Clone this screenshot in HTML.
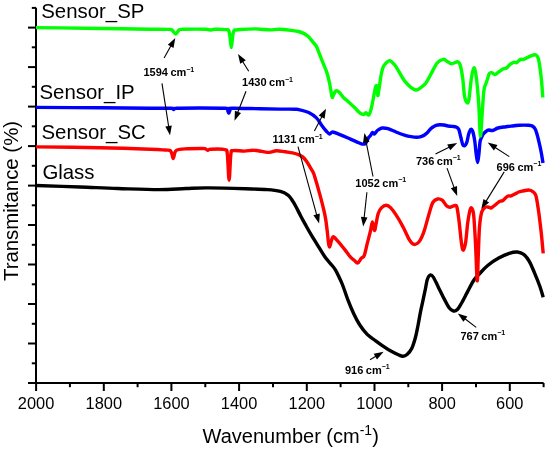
<!DOCTYPE html>
<html><head><meta charset="utf-8"><style>
html,body{margin:0;padding:0;background:#fff;}
svg{display:block;}
text{font-family:"Liberation Sans",Arial,sans-serif;fill:#000;}
.lg{font-size:20.4px;}
.al{font-size:20px;}
.yl{font-size:20.4px;}
.tk{font-size:16.4px;text-anchor:middle;}
.an{font-size:11px;font-weight:bold;}
</style></head><body>
<svg width="550" height="450" viewBox="0 0 550 450">
<rect width="550" height="450" fill="#fff"/>
<line x1="36.0" y1="7.8" x2="36.0" y2="384.0" stroke="#000" stroke-width="2"/>
<line x1="35.0" y1="383.0" x2="543.6" y2="383.0" stroke="#000" stroke-width="2"/>
<line x1="28" y1="27.6" x2="36.0" y2="27.6" stroke="#000" stroke-width="2"/>
<line x1="28" y1="67.1" x2="36.0" y2="67.1" stroke="#000" stroke-width="2"/>
<line x1="28" y1="106.6" x2="36.0" y2="106.6" stroke="#000" stroke-width="2"/>
<line x1="28" y1="146.1" x2="36.0" y2="146.1" stroke="#000" stroke-width="2"/>
<line x1="28" y1="185.6" x2="36.0" y2="185.6" stroke="#000" stroke-width="2"/>
<line x1="28" y1="225.0" x2="36.0" y2="225.0" stroke="#000" stroke-width="2"/>
<line x1="28" y1="264.5" x2="36.0" y2="264.5" stroke="#000" stroke-width="2"/>
<line x1="28" y1="304.0" x2="36.0" y2="304.0" stroke="#000" stroke-width="2"/>
<line x1="28" y1="343.5" x2="36.0" y2="343.5" stroke="#000" stroke-width="2"/>
<line x1="28" y1="383.0" x2="36.0" y2="383.0" stroke="#000" stroke-width="2"/>
<line x1="31.8" y1="7.9" x2="36.0" y2="7.9" stroke="#000" stroke-width="2"/>
<line x1="31.8" y1="47.3" x2="36.0" y2="47.3" stroke="#000" stroke-width="2"/>
<line x1="31.8" y1="86.8" x2="36.0" y2="86.8" stroke="#000" stroke-width="2"/>
<line x1="31.8" y1="126.3" x2="36.0" y2="126.3" stroke="#000" stroke-width="2"/>
<line x1="31.8" y1="165.8" x2="36.0" y2="165.8" stroke="#000" stroke-width="2"/>
<line x1="31.8" y1="205.3" x2="36.0" y2="205.3" stroke="#000" stroke-width="2"/>
<line x1="31.8" y1="244.8" x2="36.0" y2="244.8" stroke="#000" stroke-width="2"/>
<line x1="31.8" y1="284.3" x2="36.0" y2="284.3" stroke="#000" stroke-width="2"/>
<line x1="31.8" y1="323.8" x2="36.0" y2="323.8" stroke="#000" stroke-width="2"/>
<line x1="31.8" y1="363.3" x2="36.0" y2="363.3" stroke="#000" stroke-width="2"/>
<line x1="36.1" y1="383.0" x2="36.1" y2="391" stroke="#000" stroke-width="2"/>
<text x="36.1" y="408.7" class="tk">2000</text>
<line x1="69.9" y1="383.0" x2="69.9" y2="387.2" stroke="#000" stroke-width="2"/>
<line x1="103.8" y1="383.0" x2="103.8" y2="391" stroke="#000" stroke-width="2"/>
<text x="103.8" y="408.7" class="tk">1800</text>
<line x1="137.6" y1="383.0" x2="137.6" y2="387.2" stroke="#000" stroke-width="2"/>
<line x1="171.4" y1="383.0" x2="171.4" y2="391" stroke="#000" stroke-width="2"/>
<text x="171.4" y="408.7" class="tk">1600</text>
<line x1="205.3" y1="383.0" x2="205.3" y2="387.2" stroke="#000" stroke-width="2"/>
<line x1="239.1" y1="383.0" x2="239.1" y2="391" stroke="#000" stroke-width="2"/>
<text x="239.1" y="408.7" class="tk">1400</text>
<line x1="273.0" y1="383.0" x2="273.0" y2="387.2" stroke="#000" stroke-width="2"/>
<line x1="306.8" y1="383.0" x2="306.8" y2="391" stroke="#000" stroke-width="2"/>
<text x="306.8" y="408.7" class="tk">1200</text>
<line x1="340.6" y1="383.0" x2="340.6" y2="387.2" stroke="#000" stroke-width="2"/>
<line x1="374.5" y1="383.0" x2="374.5" y2="391" stroke="#000" stroke-width="2"/>
<text x="374.5" y="408.7" class="tk">1000</text>
<line x1="408.3" y1="383.0" x2="408.3" y2="387.2" stroke="#000" stroke-width="2"/>
<line x1="442.1" y1="383.0" x2="442.1" y2="391" stroke="#000" stroke-width="2"/>
<text x="442.1" y="408.7" class="tk">800</text>
<line x1="476.0" y1="383.0" x2="476.0" y2="387.2" stroke="#000" stroke-width="2"/>
<line x1="509.8" y1="383.0" x2="509.8" y2="391" stroke="#000" stroke-width="2"/>
<text x="509.8" y="408.7" class="tk">600</text>
<line x1="543.6" y1="383.0" x2="543.6" y2="387.2" stroke="#000" stroke-width="2"/>
<path d="M36.0,185.5 C43.3,185.8 66.4,186.5 80.0,187.0 C93.6,187.5 104.7,188.1 117.8,188.5 C130.9,188.9 147.3,189.6 158.7,189.6 C170.1,189.6 177.7,188.8 186.0,188.5 C194.3,188.2 198.5,187.8 208.4,187.9 C218.3,188.0 235.7,188.5 245.5,188.8 C255.3,189.1 261.5,189.2 267.3,189.6 C273.1,190.0 276.9,190.5 280.4,191.4 C283.8,192.3 286.1,193.7 288.0,195.1 C289.9,196.5 290.7,198.1 292.0,200.0 C293.3,201.9 294.6,204.0 296.0,206.7 C297.4,209.4 299.0,212.7 300.7,216.0 C302.4,219.3 304.5,223.0 306.3,226.3 C308.1,229.6 309.7,232.4 311.7,235.7 C313.7,239.0 316.1,242.8 318.3,246.3 C320.5,249.9 322.8,253.9 325.0,257.0 C327.2,260.1 329.9,262.8 331.7,265.0 C333.5,267.2 334.5,268.3 335.7,270.3 C336.9,272.3 337.9,274.6 339.0,277.0 C340.1,279.4 341.1,281.1 342.6,285.0 C344.1,288.9 346.4,296.0 348.2,300.7 C350.0,305.4 351.6,309.2 353.5,313.3 C355.4,317.4 357.5,321.5 359.8,325.0 C362.1,328.5 364.6,331.8 367.2,334.4 C369.8,337.0 372.9,338.7 375.7,340.8 C378.5,342.9 381.6,345.1 384.2,346.8 C386.8,348.6 388.9,350.0 391.3,351.3 C393.7,352.6 396.5,354.0 398.4,354.8 C400.3,355.6 401.4,356.4 402.9,356.3 C404.4,356.2 405.8,355.6 407.3,354.3 C408.8,353.0 410.4,351.3 411.7,348.6 C413.0,345.9 414.2,341.9 415.3,338.0 C416.4,334.1 417.1,329.9 418.0,325.5 C418.9,321.1 419.7,315.7 420.6,311.3 C421.5,306.9 422.5,302.6 423.3,298.9 C424.1,295.2 424.7,292.2 425.4,289.0 C426.1,285.8 426.5,281.8 427.3,279.5 C428.1,277.2 429.2,275.4 430.2,275.0 C431.2,274.6 432.0,275.2 433.3,277.1 C434.6,279.0 436.2,282.8 438.0,286.4 C439.8,290.0 442.4,295.4 444.2,298.9 C446.0,302.4 447.3,305.4 448.9,307.4 C450.4,309.4 452.1,310.6 453.5,311.0 C454.9,311.4 456.1,310.8 457.4,309.5 C458.7,308.2 459.6,306.4 461.3,303.5 C463.0,300.6 465.4,295.8 467.5,291.9 C469.6,288.0 471.7,283.3 473.8,280.2 C475.9,277.1 477.6,275.7 480.0,273.2 C482.4,270.7 484.9,267.8 488.0,265.3 C491.1,262.8 495.1,260.1 498.7,258.1 C502.2,256.1 506.2,254.3 509.3,253.3 C512.4,252.3 514.8,251.8 517.3,252.0 C519.8,252.2 522.0,253.1 524.0,254.7 C526.0,256.2 527.5,258.2 529.3,261.3 C531.1,264.4 532.9,269.1 534.7,273.3 C536.5,277.5 538.6,282.7 540.0,286.7 C541.4,290.7 542.7,295.5 543.2,297.3" fill="none" stroke="#000" stroke-width="3.4" stroke-linejoin="round" stroke-linecap="butt"/>
<path d="M36.0,146.9 C46.7,147.0 81.0,147.3 100.0,147.7 C119.0,148.1 139.2,148.8 150.0,149.2 C160.8,149.6 161.7,149.8 165.0,150.0 C168.3,150.2 168.7,149.9 169.8,150.4 C170.9,150.9 171.0,151.6 171.6,153.0 C172.2,154.4 172.7,158.6 173.2,158.6 C173.7,158.6 174.2,154.4 174.8,153.0 C175.4,151.6 174.9,150.9 176.6,150.2 C178.3,149.5 181.1,149.2 185.0,148.9 C188.9,148.6 196.7,148.5 200.0,148.5 C203.3,148.5 203.7,148.4 205.0,148.7 C206.3,149.0 207.0,150.1 208.0,150.2 C209.0,150.3 208.2,149.3 211.0,149.2 C213.8,149.1 222.3,148.8 225.0,149.6 C227.7,150.4 226.6,148.9 227.3,154.0 C228.0,159.1 228.5,180.2 229.1,180.2 C229.7,180.2 230.2,158.9 230.9,154.0 C231.6,149.1 230.9,151.1 233.2,150.6 C235.5,150.1 241.2,151.2 244.5,151.1 C247.8,151.0 250.4,150.1 253.3,150.2 C256.2,150.2 259.3,151.0 262.0,151.4 C264.7,151.8 266.9,152.5 269.3,152.4 C271.7,152.3 273.8,150.9 276.5,150.8 C279.2,150.7 282.6,151.5 285.3,151.8 C288.0,152.2 290.3,152.4 292.5,152.9 C294.7,153.4 296.7,153.9 298.4,154.6 C300.1,155.3 301.3,155.7 302.7,156.9 C304.1,158.1 305.6,160.0 307.0,162.0 C308.4,164.0 310.0,166.9 311.1,168.9 C312.2,170.9 313.0,171.8 313.8,173.8 C314.6,175.8 315.1,178.2 316.0,181.1 C316.9,184.0 318.0,187.8 318.9,191.1 C319.8,194.4 320.8,197.9 321.6,201.1 C322.4,204.2 323.1,207.0 323.8,210.0 C324.5,213.0 325.1,215.6 325.6,218.9 C326.2,222.2 326.6,226.2 327.1,230.0 C327.6,233.8 328.0,239.2 328.4,242.0 C328.8,244.8 329.1,247.1 329.6,247.0 C330.1,246.9 330.7,243.0 331.2,241.5 C331.7,240.0 331.9,238.8 332.4,238.0 C332.8,237.2 333.0,236.5 333.9,237.0 C334.8,237.5 336.2,239.3 337.8,241.1 C339.4,242.9 341.8,245.9 343.3,247.8 C344.8,249.7 345.7,250.8 347.0,252.5 C348.3,254.2 349.8,256.4 351.0,257.7 C352.2,259.0 353.4,259.6 354.5,260.5 C355.6,261.4 356.6,263.4 357.7,263.0 C358.8,262.6 360.1,259.7 361.2,258.4 C362.3,257.1 363.3,257.9 364.3,255.3 C365.3,252.7 366.3,247.1 367.4,242.9 C368.4,238.8 369.8,233.9 370.6,230.4 C371.4,226.9 371.8,221.9 372.4,221.9 C373.0,221.9 373.8,230.0 374.4,230.4 C375.0,230.8 375.4,227.0 376.0,224.2 C376.6,221.3 377.4,216.0 378.3,213.3 C379.2,210.6 380.1,209.2 381.4,207.9 C382.7,206.6 384.5,205.2 386.1,205.2 C387.7,205.2 389.0,206.0 390.8,207.9 C392.6,209.8 394.9,213.2 397.0,216.4 C399.1,219.6 401.1,223.4 403.2,227.3 C405.3,231.2 407.6,237.0 409.4,239.8 C411.2,242.7 412.5,244.0 414.1,244.4 C415.7,244.8 417.5,243.4 418.8,242.1 C420.1,240.8 421.0,238.6 422.0,236.5 C423.0,234.4 423.5,233.2 424.7,229.3 C425.9,225.4 427.9,217.5 429.3,213.0 C430.7,208.5 431.4,204.8 432.8,202.5 C434.2,200.2 435.9,199.4 437.5,199.0 C439.1,198.6 440.6,199.0 442.2,200.2 C443.8,201.4 445.4,204.8 446.8,206.0 C448.2,207.2 448.9,207.3 450.3,207.2 C451.7,207.1 453.9,205.4 455.0,205.5 C456.1,205.6 456.3,204.7 457.0,207.5 C457.7,210.3 458.4,216.3 459.2,222.3 C459.9,228.3 460.8,238.6 461.5,243.3 C462.2,248.0 462.5,250.3 463.2,250.3 C463.9,250.3 464.7,248.0 465.5,243.3 C466.3,238.6 467.0,227.9 467.8,222.3 C468.6,216.7 469.5,211.8 470.2,209.5 C470.9,207.2 471.2,207.3 471.8,208.3 C472.4,209.3 473.1,209.5 473.7,215.3 C474.3,221.1 474.9,232.4 475.5,243.3 C476.1,254.2 476.7,278.8 477.2,280.7 C477.7,282.6 477.9,263.9 478.3,255.0 C478.7,246.1 478.9,234.2 479.5,227.0 C480.1,219.8 480.8,215.1 481.8,211.8 C482.8,208.5 484.1,208.0 485.3,207.2 C486.5,206.4 487.9,207.1 488.8,207.2 C489.8,207.3 490.0,208.3 491.0,208.0 C492.0,207.7 493.6,206.1 494.7,205.3 C495.8,204.5 496.6,203.7 497.5,203.0 C498.4,202.3 499.1,201.7 500.0,201.3 C500.9,200.9 502.2,201.0 503.0,200.5 C503.8,200.0 504.2,199.2 505.0,198.5 C505.8,197.8 507.1,196.4 508.0,196.0 C508.9,195.6 509.6,196.2 510.5,196.0 C511.4,195.8 512.4,195.1 513.3,194.7 C514.2,194.3 515.1,193.9 516.0,193.5 C516.9,193.1 517.4,192.5 518.7,192.0 C520.0,191.5 522.2,191.0 524.0,190.7 C525.8,190.4 527.8,189.9 529.3,190.1 C530.8,190.3 532.2,191.0 533.3,192.0 C534.4,193.0 535.1,192.7 536.0,196.0 C536.9,199.3 537.8,205.8 538.7,212.0 C539.6,218.2 540.5,226.4 541.3,233.3 C542.0,240.2 542.9,250.0 543.2,253.3" fill="none" stroke="#ff0000" stroke-width="3.4" stroke-linejoin="round" stroke-linecap="butt"/>
<path d="M36.0,107.4 C46.7,107.5 81.0,107.7 100.0,107.8 C119.0,107.9 138.2,108.1 150.0,108.2 C161.8,108.3 167.1,108.1 171.0,108.3 C174.9,108.5 172.9,109.5 173.7,109.5 C174.5,109.5 171.6,108.5 176.0,108.3 C180.4,108.0 191.8,108.0 200.0,108.0 C208.2,108.0 220.9,108.0 225.5,108.3 C230.1,108.5 226.8,108.7 227.3,109.5 C227.9,110.3 228.3,113.4 228.8,113.4 C229.3,113.4 229.7,110.3 230.2,109.5 C230.7,108.7 226.8,108.4 231.8,108.3 C236.8,108.2 252.0,108.6 260.0,108.7 C268.0,108.8 274.1,109.0 280.0,109.1 C285.9,109.2 292.3,109.1 295.6,109.2 C298.9,109.3 297.8,109.2 300.0,109.8 C302.2,110.3 306.0,111.2 308.7,112.5 C311.4,113.8 314.2,115.7 316.4,117.9 C318.6,120.1 320.2,123.3 321.8,125.5 C323.4,127.7 324.9,129.6 326.2,131.0 C327.5,132.4 328.4,133.8 329.5,134.0 C330.6,134.2 331.1,131.9 332.7,132.0 C334.3,132.1 336.8,133.3 339.3,134.3 C341.9,135.3 345.1,136.7 348.0,138.0 C350.9,139.3 354.3,140.9 356.7,141.9 C359.1,142.9 360.7,143.8 362.2,144.1 C363.7,144.3 364.5,144.3 365.5,143.4 C366.5,142.5 367.2,139.8 368.0,138.5 C368.8,137.2 369.8,136.5 370.5,135.5 C371.2,134.5 371.9,132.8 372.5,132.5 C373.1,132.2 373.5,133.9 374.0,134.0 C374.5,134.1 374.8,133.5 375.5,132.8 C376.2,132.1 376.9,130.8 378.0,130.0 C379.1,129.2 380.3,128.2 382.0,128.0 C383.7,127.8 385.7,128.0 388.0,128.7 C390.3,129.4 393.0,130.8 396.0,132.0 C399.0,133.2 403.5,134.8 406.0,135.6 C408.5,136.4 409.2,136.3 411.0,136.6 C412.8,136.9 414.8,137.2 416.5,137.2 C418.2,137.2 419.7,137.0 421.0,136.6 C422.3,136.2 423.4,135.7 424.5,135.0 C425.6,134.3 426.6,133.4 427.5,132.5 C428.4,131.6 429.1,130.4 430.0,129.5 C430.9,128.6 432.0,127.7 433.0,127.0 C434.0,126.3 434.8,125.7 436.0,125.3 C437.2,124.9 438.7,124.8 440.0,124.8 C441.3,124.8 442.7,124.8 444.0,125.0 C445.3,125.2 446.7,125.8 448.0,126.0 C449.3,126.2 450.7,126.2 452.0,126.4 C453.3,126.6 454.9,126.5 456.0,127.0 C457.1,127.5 457.9,127.7 458.7,129.3 C459.5,130.9 460.0,134.2 460.7,136.7 C461.4,139.2 462.0,143.0 462.7,144.5 C463.4,146.0 464.0,146.0 464.7,145.7 C465.4,145.4 466.0,144.6 466.7,142.7 C467.4,140.8 468.0,136.2 468.7,134.0 C469.4,131.8 470.0,129.9 470.7,129.5 C471.4,129.1 472.0,129.4 472.7,131.3 C473.4,133.2 474.1,136.9 474.7,140.7 C475.3,144.5 475.7,150.4 476.2,154.0 C476.7,157.6 477.2,162.5 477.6,162.5 C478.1,162.5 478.5,157.4 478.9,154.0 C479.3,150.6 479.6,144.7 480.0,142.0 C480.4,139.3 480.8,139.3 481.3,138.0 C481.9,136.7 482.5,135.1 483.3,134.0 C484.1,132.9 485.1,132.0 486.0,131.3 C486.9,130.6 487.6,130.1 488.7,130.0 C489.8,129.9 491.1,130.8 492.7,130.5 C494.2,130.2 495.8,128.6 498.0,128.0 C500.2,127.4 503.3,127.1 506.0,126.7 C508.7,126.3 511.8,126.0 514.0,125.7 C516.2,125.5 516.8,125.3 519.3,125.2 C521.8,125.1 526.5,125.1 528.7,125.3 C530.9,125.5 531.6,125.6 532.7,126.3 C533.8,127.0 534.5,127.8 535.3,129.3 C536.1,130.8 536.6,133.0 537.3,135.3 C538.0,137.6 538.6,140.4 539.3,143.3 C540.0,146.2 540.7,149.4 541.3,152.7 C541.9,156.0 542.7,161.3 543.0,163.0" fill="none" stroke="#0000ff" stroke-width="3.4" stroke-linejoin="round" stroke-linecap="butt"/>
<path d="M36.0,27.6 C40.0,27.7 49.3,27.8 60.0,27.9 C70.7,28.0 85.0,28.3 100.0,28.5 C115.0,28.7 138.7,29.1 150.0,29.2 C161.3,29.3 164.3,29.3 168.0,29.4 C171.7,29.5 170.7,29.2 172.0,30.0 C173.3,30.8 174.6,34.0 175.8,34.0 C177.0,34.0 177.8,30.8 179.0,30.0 C180.2,29.2 178.7,29.4 183.0,29.3 C187.3,29.2 200.3,29.1 205.0,29.2 C209.7,29.3 209.3,30.0 211.0,30.0 C212.7,30.0 212.5,29.4 215.0,29.3 C217.5,29.2 223.7,29.4 226.0,29.6 C228.3,29.8 227.9,29.2 228.6,30.3 C229.2,31.4 229.4,33.1 229.9,36.0 C230.4,38.9 230.8,47.6 231.3,47.6 C231.8,47.6 232.2,38.9 232.7,36.0 C233.1,33.1 233.4,31.5 234.0,30.5 C234.6,29.5 235.0,30.2 236.0,30.0 C237.0,29.8 236.8,29.7 240.0,29.5 C243.2,29.3 251.5,28.9 255.3,28.9 C259.1,28.9 260.5,29.3 263.0,29.5 C265.5,29.7 267.8,29.9 270.5,29.9 C273.2,29.8 276.0,29.1 279.4,29.2 C282.8,29.3 287.7,30.0 290.9,30.4 C294.1,30.8 296.4,31.0 298.5,31.5 C300.6,32.0 302.1,32.7 303.6,33.4 C305.1,34.1 306.3,35.1 307.4,35.9 C308.5,36.7 309.1,37.4 310.0,38.4 C310.9,39.4 311.7,40.6 312.8,41.9 C313.9,43.2 315.2,44.2 316.4,46.4 C317.6,48.6 318.7,52.2 319.9,55.2 C321.1,58.2 322.3,61.1 323.5,64.1 C324.7,67.1 326.0,69.7 327.0,73.0 C328.0,76.3 328.9,80.1 329.7,83.7 C330.4,87.3 331.1,92.1 331.5,94.4 C331.9,96.7 332.1,97.4 332.4,97.5 C332.7,97.6 332.9,96.1 333.5,95.0 C334.1,93.9 334.9,91.2 335.9,90.8 C336.9,90.4 338.2,91.4 339.5,92.6 C340.8,93.8 342.6,96.7 343.9,98.0 C345.1,99.3 345.3,99.0 347.0,100.5 C348.7,102.0 352.1,105.2 354.3,107.3 C356.5,109.4 358.5,111.9 360.1,113.1 C361.7,114.3 362.7,114.6 363.7,114.5 C364.7,114.4 365.0,112.6 365.9,112.7 C366.8,112.8 367.9,115.5 368.8,115.0 C369.7,114.5 370.3,112.1 371.0,109.5 C371.7,106.9 372.5,103.0 373.2,99.3 C373.9,95.6 374.8,89.8 375.4,87.6 C376.0,85.4 376.4,84.9 376.8,86.2 C377.2,87.5 377.4,95.1 377.8,95.6 C378.2,96.1 378.4,92.5 379.0,89.0 C379.6,85.5 380.5,78.2 381.2,74.5 C381.9,70.8 382.4,68.5 383.4,66.5 C384.4,64.5 385.9,63.2 387.0,62.2 C388.1,61.2 388.8,60.5 389.9,60.7 C391.0,60.9 392.4,62.4 393.5,63.6 C394.6,64.8 394.7,64.7 396.7,67.8 C398.7,70.9 402.5,78.5 405.6,82.2 C408.8,85.9 412.7,89.4 415.6,90.0 C418.6,90.6 421.6,86.8 423.3,85.6 C425.1,84.4 424.8,84.5 426.1,82.6 C427.4,80.7 429.2,77.3 431.0,74.0 C432.8,70.7 435.1,65.5 437.1,63.0 C439.1,60.5 441.6,59.6 443.2,59.3 C444.8,59.0 445.5,60.6 446.9,61.3 C448.2,62.0 449.5,63.6 451.3,63.7 C453.1,63.8 456.4,61.5 457.9,61.8 C459.4,62.1 459.5,62.6 460.3,65.5 C461.1,68.3 462.1,73.8 462.8,78.9 C463.5,84.0 463.8,92.1 464.5,96.0 C465.2,99.9 466.2,101.9 466.9,102.5 C467.6,103.1 468.2,103.6 468.9,99.7 C469.6,95.8 470.5,84.2 471.3,78.9 C472.1,73.6 473.0,68.3 473.8,67.9 C474.6,67.5 475.4,70.6 476.2,76.5 C477.0,82.4 478.0,93.4 478.7,103.3 C479.4,113.2 479.8,134.9 480.4,136.0 C481.0,137.1 481.8,117.7 482.4,110.0 C483.0,102.3 483.4,94.3 484.0,90.0 C484.6,85.7 485.2,85.8 485.8,84.0 C486.4,82.2 486.9,80.8 487.5,79.0 C488.1,77.2 488.7,74.5 489.4,73.4 C490.1,72.4 490.9,72.5 491.8,72.7 C492.7,72.9 493.7,74.6 494.9,74.5 C496.1,74.4 497.4,72.9 498.8,71.9 C500.2,71.0 502.1,69.5 503.4,68.8 C504.7,68.1 505.3,68.8 506.5,68.0 C507.7,67.2 509.1,65.1 510.4,64.1 C511.7,63.1 513.2,62.4 514.3,62.1 C515.3,61.9 515.7,63.1 516.7,62.6 C517.7,62.1 519.3,59.9 520.5,59.4 C521.7,58.9 522.4,59.8 523.7,59.4 C525.0,59.0 526.8,57.8 528.3,57.1 C529.8,56.4 531.7,55.4 533.0,55.1 C534.3,54.8 535.2,54.5 536.1,55.1 C537.0,55.7 537.8,56.6 538.4,58.7 C539.0,60.9 539.5,64.4 540.0,68.0 C540.5,71.6 541.0,75.5 541.5,80.4 C542.0,85.3 542.6,94.7 542.8,97.5" fill="none" stroke="#00ff00" stroke-width="3.4" stroke-linejoin="round" stroke-linecap="butt"/>
<text x="41.2" y="17.5" class="lg">Sensor_SP</text>
<text x="39.5" y="99" class="lg">Sensor_IP</text>
<text x="41.5" y="139" class="lg">Sensor_SC</text>
<text x="42.4" y="178.6" class="lg">Glass</text>
<text x="0" y="0" class="yl" transform="translate(18,201) rotate(-90)" text-anchor="middle">Transmitance (%)</text>
<text x="202.6" y="443.2" class="al">Wavenumber (cm<tspan dy="-8" font-size="14">-1</tspan><tspan dy="8">)</tspan></text>
<text x="143.4" y="76.0" class="an">1594<tspan dx="2.5">cm</tspan><tspan dy="-4.5" font-size="7">&#8722;1</tspan></text>
<text x="242.1" y="86.0" class="an">1430<tspan dx="2.5">cm</tspan><tspan dy="-4.5" font-size="7">&#8722;1</tspan></text>
<text x="272.4" y="143.0" class="an">1131<tspan dx="2.5">cm</tspan><tspan dy="-4.5" font-size="7">&#8722;1</tspan></text>
<text x="355.3" y="186.7" class="an">1052<tspan dx="2.5">cm</tspan><tspan dy="-4.5" font-size="7">&#8722;1</tspan></text>
<text x="416.0" y="164.8" class="an">736<tspan dx="2.5">cm</tspan><tspan dy="-4.5" font-size="7">&#8722;1</tspan></text>
<text x="496.6" y="170.6" class="an">696<tspan dx="2.5">cm</tspan><tspan dy="-4.5" font-size="7">&#8722;1</tspan></text>
<text x="345.0" y="373.6" class="an">916<tspan dx="2.5">cm</tspan><tspan dy="-4.5" font-size="7">&#8722;1</tspan></text>
<text x="460.5" y="339.7" class="an">767<tspan dx="2.5">cm</tspan><tspan dy="-4.5" font-size="7">&#8722;1</tspan></text>
<line x1="164.1" y1="58.0" x2="171.1" y2="45.4" stroke="#000" stroke-width="1.1"/><polygon points="175.3,38.0 173.5,47.9 167.8,44.7" fill="#000"/>
<line x1="162.0" y1="83.3" x2="168.7" y2="126.9" stroke="#000" stroke-width="1.1"/><polygon points="170.0,135.3 165.3,126.4 171.8,125.4" fill="#000"/>
<line x1="248.7" y1="71.3" x2="242.5" y2="61.2" stroke="#000" stroke-width="1.1"/><polygon points="238.0,54.0 245.8,60.3 240.2,63.8" fill="#000"/>
<line x1="246.0" y1="91.3" x2="237.6" y2="112.8" stroke="#000" stroke-width="1.1"/><polygon points="234.5,120.7 234.9,110.7 241.0,113.1" fill="#000"/>
<line x1="314.4" y1="131.1" x2="322.1" y2="116.2" stroke="#000" stroke-width="1.1"/><polygon points="326.0,108.7 324.6,118.7 318.7,115.6" fill="#000"/>
<line x1="298.0" y1="146.7" x2="316.8" y2="215.3" stroke="#000" stroke-width="1.1"/><polygon points="319.1,223.5 313.4,215.2 319.8,213.5" fill="#000"/>
<line x1="373.0" y1="176.5" x2="366.0" y2="141.3" stroke="#000" stroke-width="1.1"/><polygon points="364.4,133.0 369.5,141.7 363.0,143.0" fill="#000"/>
<line x1="366.9" y1="192.3" x2="364.1" y2="218.1" stroke="#000" stroke-width="1.1"/><polygon points="363.2,226.6 360.9,216.8 367.5,217.5" fill="#000"/>
<line x1="435.5" y1="154.1" x2="449.6" y2="146.9" stroke="#000" stroke-width="1.1"/><polygon points="457.2,143.1 450.2,150.3 447.2,144.5" fill="#000"/>
<line x1="447.0" y1="168.1" x2="454.3" y2="188.1" stroke="#000" stroke-width="1.1"/><polygon points="457.2,196.1 450.8,188.3 457.0,186.0" fill="#000"/>
<line x1="509.3" y1="156.6" x2="494.8" y2="147.2" stroke="#000" stroke-width="1.1"/><polygon points="487.7,142.6 497.5,145.0 493.9,150.5" fill="#000"/>
<line x1="504.2" y1="171.9" x2="485.8" y2="201.6" stroke="#000" stroke-width="1.1"/><polygon points="481.3,208.8 483.5,199.0 489.1,202.5" fill="#000"/>
<line x1="370.0" y1="359.7" x2="376.3" y2="356.1" stroke="#000" stroke-width="1.1"/><polygon points="383.6,351.8 377.0,359.4 373.7,353.7" fill="#000"/>
<line x1="476.2" y1="327.4" x2="464.6" y2="318.5" stroke="#000" stroke-width="1.1"/><polygon points="457.8,313.4 467.4,316.5 463.4,321.8" fill="#000"/>
</svg>
</body></html>
